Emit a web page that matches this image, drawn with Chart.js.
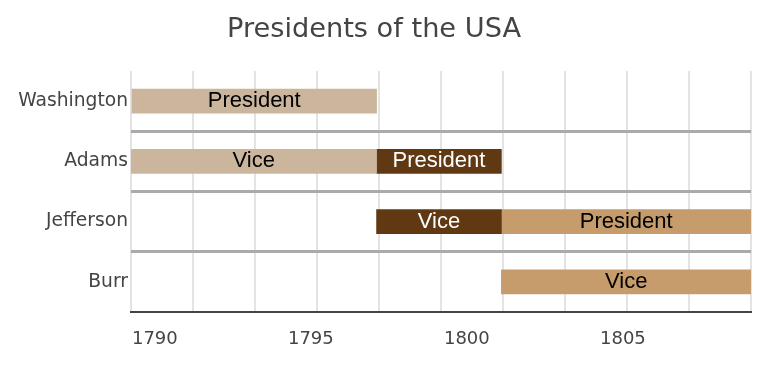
<!DOCTYPE html>
<html lang="en">
<head>
    <meta charset="UTF-8">
    <title>Presidents of the USA</title>
    <script src="https://cdn.jsdelivr.net/npm/chart.js"></script>
    <style>
        body {
            margin: 0;
            padding: 0;
            background: #fff;
        }
        #wrap {
            position: relative;
            width: 768px;
            height: 368px;
        }
        #title {
            position: absolute;
            top: 12px;
            left: 0;
            width: 748px; /* centre sits at x=374 like the original */
            text-align: center;
            font-family: "DejaVu Sans", Verdana, sans-serif;
            font-size: 27.2px;
            line-height: 32px;
            color: #444;
        }
    </style>
</head>
<body>
<div id="wrap">
    <div id="title">Presidents of the USA</div>
    <canvas id="timeline" width="768" height="368"></canvas>
</div>
<script>
    // rows
    const people = ['Washington', 'Adams', 'Jefferson', 'Burr'];

    // one dataset per term, [start, end] in decimal years
    const term1Spans = [[1789.33, 1797.17], [1789.30, 1797.17], null, null];
    const term1Roles = ['President', 'Vice', null, null];
    const term2Spans = [null, [1797.17, 1801.17], [1797.17, 1801.17], null];
    const term2Roles = [null, 'President', 'Vice', null];
    const term3Spans = [null, null, [1801.17, 1809.17], [1801.17, 1809.17]];
    const term3Roles = [null, null, 'President', 'Vice'];

    // axis
    const axisStart = 1789.30;
    const axisEnd = 1809.17;
    const yearTicks = [1790, 1795, 1800, 1805];
    const gridDivisions = 10;

    const roleLabels = {
        id: 'roleLabels',
        afterDatasetsDraw(chart) {
            const ctx = chart.ctx;
            ctx.save();
            ctx.font = '22px "Liberation Sans", Arial, sans-serif';
            ctx.textAlign = 'center';
            ctx.textBaseline = 'middle';
            chart.data.datasets.forEach((ds, i) => {
                const meta = chart.getDatasetMeta(i);
                meta.data.forEach((bar, j) => {
                    const role = ds.roles[j];
                    if (!role || !ds.data[j]) return;
                    const p = bar.getProps(['x', 'y', 'base'], true);
                    ctx.fillStyle = ds.textColor;
                    ctx.fillText(role, (p.x + p.base) / 2, p.y);
                });
            });
            ctx.restore();
        }
    };

    const ctx = document.getElementById('timeline').getContext('2d');
    const chart = new Chart(ctx, {
        type: 'bar',
        data: {
            labels: people,
            datasets: [
                { label: '1789-1797', data: term1Spans, roles: term1Roles, backgroundColor: '#cbb69d', textColor: '#000' },
                { label: '1797-1801', data: term2Spans, roles: term2Roles, backgroundColor: '#603913', textColor: '#fff' },
                { label: '1801-1809', data: term3Spans, roles: term3Roles, backgroundColor: '#c69c6d', textColor: '#000' }
            ]
        },
        options: {
            indexAxis: 'y',
            responsive: false,
            animation: false,
            grouped: false,
            barThickness: 24,
            borderWidth: 0,
            borderSkipped: false,
            layout: { padding: { top: 71, right: 16, left: 0, bottom: 0 } },
            plugins: {
                legend: { display: false },
                title: { display: false },
                tooltip: { enabled: false }
            },
            scales: {
                x: {
                    type: 'linear',
                    position: 'bottom',
                    min: axisStart,
                    max: axisEnd,
                    afterBuildTicks(scale) {
                        const step = (axisEnd - axisStart) / gridDivisions;
                        const vals = [];
                        for (let i = 0; i <= gridDivisions; i++) vals.push(axisStart + i * step);
                        yearTicks.forEach(v => vals.push(v));
                        vals.sort((a, b) => a - b);
                        scale.ticks = vals.map(v => ({ value: v }));
                    },
                    afterFit(scale) { scale.height = 56; },
                    grid: {
                        drawTicks: false,
                        lineWidth: 2,
                        color: (c) => (c.tick && yearTicks.includes(c.tick.value)) ? 'rgba(0,0,0,0)' : '#e3e3e3'
                    },
                    border: { display: true, color: '#444', width: 2 },
                    ticks: {
                        autoSkip: false,
                        maxRotation: 0,
                        padding: 17,
                        labelOffset: 2,
                        color: '#444',
                        font: { family: '"DejaVu Sans", Verdana, sans-serif', size: 18 },
                        callback: (value) => yearTicks.includes(value) ? String(value) : ''
                    }
                },
                y: {
                    type: 'category',
                    offset: true,
                    afterFit(scale) { scale.width = 131; },
                    grid: {
                        offset: true,
                        drawTicks: false,
                        lineWidth: 3,
                        color: (c) => (c.type === 'tick' && c.index > 0) ? '#aaaaaa' : 'rgba(0,0,0,0)'
                    },
                    border: { display: false },
                    ticks: {
                        padding: 3,
                        color: '#444',
                        font: { family: '"DejaVu Sans", Verdana, sans-serif', size: 18.7 }
                    }
                }
            }
        },
        plugins: [roleLabels]
    });
</script>
</body>
</html>
